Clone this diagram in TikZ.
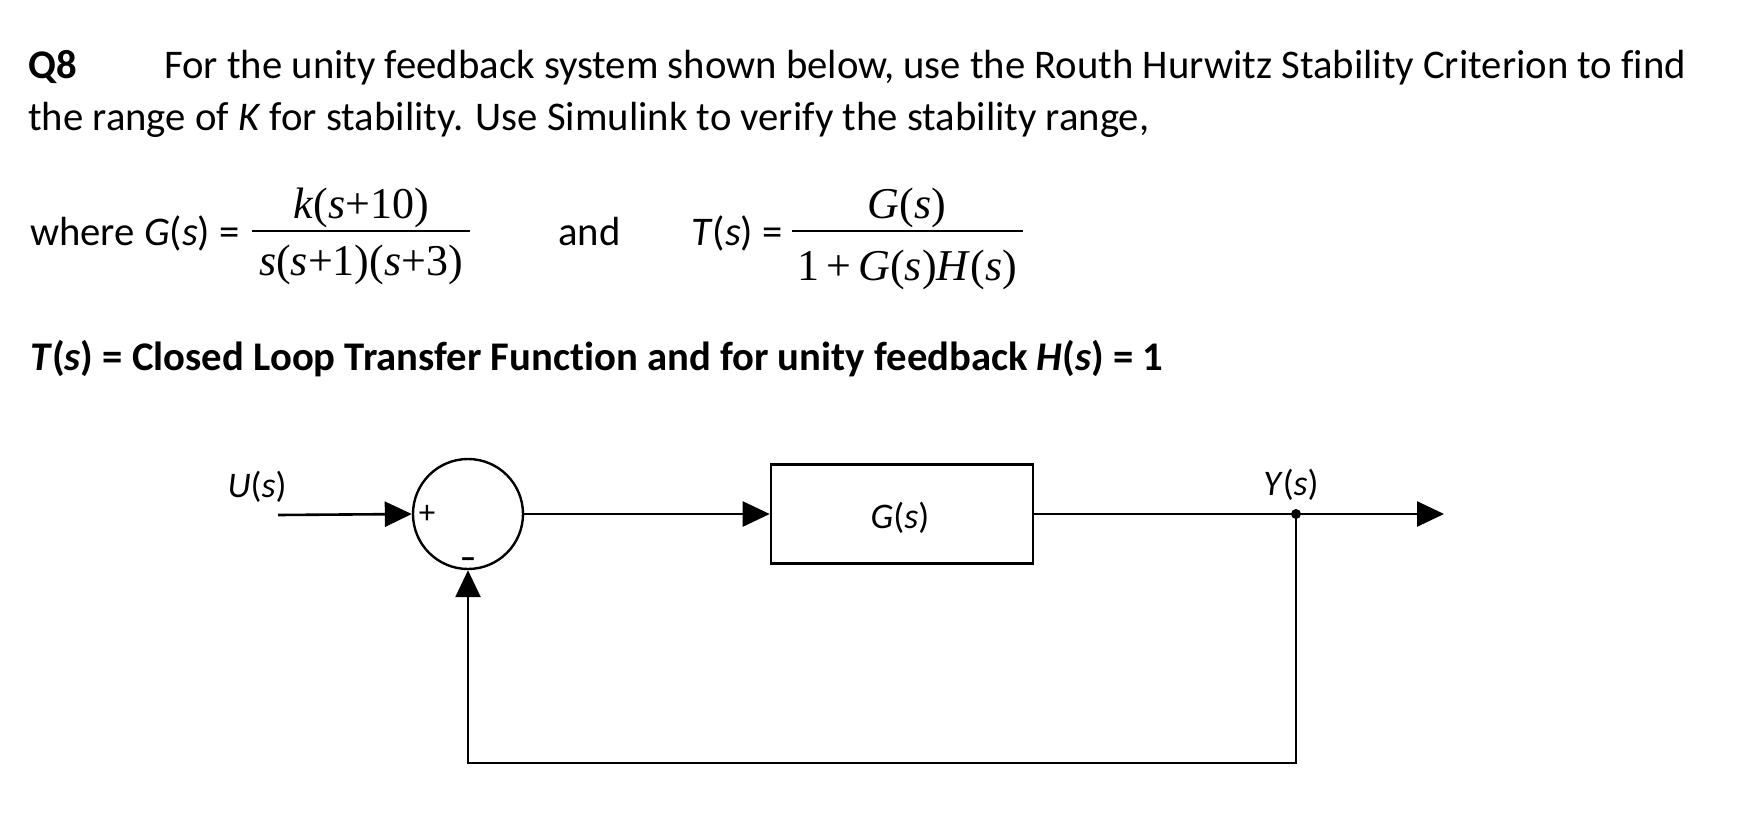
\documentclass[tikz,border=0pt]{standalone}
\usepackage{fontspec}
\setmainfont[Ligatures={NoCommon}]{Carlito}
\newfontfamily\tnr{Liberation Serif}
\usetikzlibrary{arrows.meta}
\tikzset{
  txt/.style={inner sep=0pt, anchor=base west, font=\fontsize{40.7}{48}\selectfont},
  mth/.style={inner sep=0pt, anchor=base, font=\tnr\fontsize{44}{50}\selectfont},
  dlab/.style={inner sep=0pt, font=\fontsize{36}{42}\selectfont},
  sgn/.style={inner sep=0pt, font=\fontsize{33}{33}\selectfont},
  sig/.style={line width=2.6pt, -{Triangle[length=27pt,width=25pt]}},
  wire/.style={line width=2.6pt},
  blk/.style={draw, line width=2.6pt, minimum width=262pt, minimum height=99pt, inner sep=0pt},
  sumc/.style={draw, circle, line width=2.4pt, minimum size=110pt, inner sep=0pt}
}
\begin{document}
\begin{tikzpicture}[x=1pt,y=-1pt]
\useasboundingbox (0,0) rectangle (1754,838);
% text
\node[txt] (q8) at (28,78) {\textbf{Q8}};
\node[txt] (l1) at (164,78) {For the unity feedback system shown below, use the Routh Hurwitz Stability Criterion to find};
\node[txt] (l2) at (28,130) {the range of \textit{K} for stability. Use Simulink to verify the stability range,};
\node[txt] (wh) at (30,245) {where \textit{G}(\textit{s}) =};
\node[mth] (n1) at (361,218) {\textit{k}(\textit{s}+10)};
\node[mth] (d1) at (361,275) {\textit{s}(\textit{s}+1)(\textit{s}+3)};
\draw[line width=2.8pt] (252,231) -- (470,231);
\node[txt] (and) at (558,245) {and};
\node[txt] (ts) at (691,245) {\textit{T}(\textit{s}) =};
\node[mth] (n2) at (907,218) {\textit{G}(\textit{s})};
\node[mth] (d2) at (907,280) {1\,+\,\textit{G}(\textit{s})\textit{H}(\textit{s})};
\draw[line width=1.6pt] (792,231) -- (1023,231);
\node[txt] (cl) at (30,370) {\textbf{\textit{T}(\textit{s}) = Closed Loop Transfer Function and for unity feedback \textit{H}(\textit{s}) = 1}};
% diagram
\node[dlab] (u) at (257,487) {\textit{U}(\textit{s})};
\coordinate (uin) at (278,515);
\node[sumc] (sum) at (468,514) {};
\node[sgn] (plus) at (427,514) {+};
\node[sgn] (minus) at (468,563) {\textbf{–}};
\node[blk] (g) at (902,514) {};
\node[dlab] (gl) at (900,518) {\textit{G}(\textit{s})};
\node[dlab] (y) at (1291,485) {\textit{Y}(\textit{s})};
\coordinate (jn) at (1296,514);
\coordinate (yout) at (1444,514);
\coordinate (fb1) at (1296,763);
\coordinate (fb2) at (468,763);
\draw[sig] (uin) -- (sum.west);
\draw[sig] (sum.east) -- (g.west);
\draw[wire] (g.east) -- (jn);
\draw[sig] (jn) -- (yout);
\draw[sig] (jn) -- (fb1) -- (fb2) -- (sum.south);
\fill (jn) circle (5pt);
\end{tikzpicture}
\end{document}
